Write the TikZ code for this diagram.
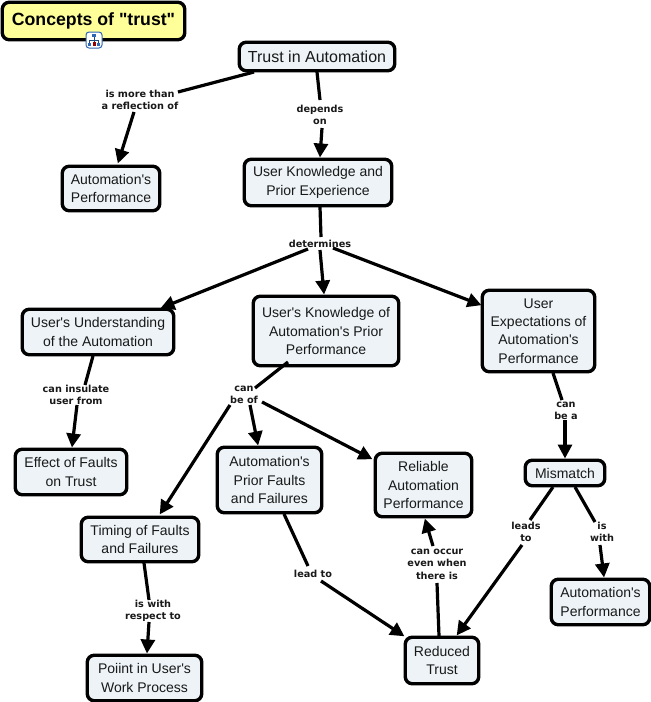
\documentclass[tikz,border=0pt]{standalone}
\usepackage{fontspec}
\newfontfamily\boxfont{Liberation Sans}
\newfontfamily\labelfont{DejaVu Sans}
\usetikzlibrary{arrows.meta}
\definecolor{boxfill}{HTML}{EDF3F6}
\definecolor{titlefill}{HTML}{FFFF99}
\definecolor{iconblue}{HTML}{2F66B5}
\tikzset{
  concept/.style={draw=black,fill=boxfill,line width=3.4pt,rounded corners=7pt,align=center,
    inner sep=0pt,outer sep=0pt,font=\boxfont\fontsize{14}{18.4}\selectfont,text=black!90},
  titlebox/.style={draw=black,fill=titlefill,line width=3.4pt,rounded corners=7pt,inner sep=0pt,outer sep=0pt,
    font=\boxfont\fontsize{17.7}{22}\selectfont\bfseries},
  linkword/.style={align=center,inner sep=0pt,font=\labelfont\fontsize{9.7}{12.6}\selectfont\bfseries,text=black!90},
  linkline/.style={line width=3.2pt,draw=black},
  linkarrow/.style={linkline,-{Triangle[length=14pt,width=14pt]},shorten >=-0.5pt}
}
\newcommand{\plainlink}[4]{\draw[linkline] ([shift={(#2)}]#1.center) -- ([shift={(#4)}]#3.center);}
\newcommand{\tiplink}[4]{\draw[linkarrow] ([shift={(#2)}]#1.center) -- ([shift={(#4)}]#3.center);}
\begin{document}
\begin{tikzpicture}[x=1pt,y=-1pt]
\useasboundingbox[fill=white] (0,0) rectangle (651,702);
% boxes
\node[titlebox,minimum width=182.5pt,minimum height=37.5pt] (title) at (93.5,21) {Concepts of "trust"};
\node[concept,minimum width=155.5pt,minimum height=28.5pt,font=\boxfont\fontsize{16}{19}\selectfont] (trust) at (317,56.5) {Trust in Automation};
\node[concept,minimum width=97.5pt,minimum height=44.5pt] (perfL) at (111,188.5) {Automation's\\Performance};
\node[concept,minimum width=147.5pt,minimum height=46.5pt] (uk) at (318,182.5) {\raisebox{-1pt}{User Knowledge and}\\\raisebox{-1pt}{Prior Experience}};
\node[concept,minimum width=151.5pt,minimum height=45.5pt] (uu) at (98,332) {User's Understanding\\of the Automation};
\node[concept,minimum width=145.5pt,minimum height=69.5pt] (k) at (326,331) {User's Knowledge of\\Automation's Prior\\Performance};
\node[concept,minimum width=112.5pt,minimum height=81.5pt] (ue) at (538.5,331) {User\\Expectations of\\Automation's\\Performance};
\node[concept,minimum width=111.5pt,minimum height=45.5pt] (eff) at (71,472) {Effect of Faults\\on Trust};
\node[concept,minimum width=104.5pt,minimum height=65.5pt] (prior) at (269.5,480) {Automation's\\Prior Faults\\and Failures};
\node[concept,minimum width=96.5pt,minimum height=63.5pt] (rel) at (423.5,485) {Reliable\\Automation\\Performance};
\node[concept,minimum width=117.5pt,minimum height=44.5pt] (tim) at (140,539.5) {Timing of Faults\\and Failures};
\node[concept,minimum width=79.5pt,minimum height=25.5pt] (mis) at (565,473) {Mismatch};
\node[concept,minimum width=98.5pt,minimum height=45.5pt] (perfR) at (600.5,602) {Automation's\\Performance};
\node[concept,minimum width=73.5pt,minimum height=46.5pt] (red) at (442,660.5) {Reduced\\Trust};
\node[concept,minimum width=114.5pt,minimum height=45.5pt] (poi) at (144.5,678) {Poiint in User's\\Work Process};
% linking words
\coordinate (l1) at (140,100);
\coordinate (l2) at (320,115);
\coordinate (det) at (320,244);
\coordinate (ins) at (76,395);
\coordinate (of) at (244,395);
\coordinate (cba) at (566,411);
\coordinate (lds) at (526,532);
\coordinate (iw) at (602,532);
\coordinate (wr) at (153,611);
\coordinate (ld) at (313,574);
\coordinate (oc) at (437,564);
% connectors
\plainlink{trust}{-63,15.5}{l1}{38,-8}
\tiplink{l1}{-6,12}{perfL}{7,-25.5}
\plainlink{trust}{0,15.5}{l2}{0,-15}
\tiplink{l2}{2,13}{uk}{2,-25.5}
\plainlink{uk}{2,24.5}{det}{1,-7}
\tiplink{det}{-12,5}{uu}{63,-24}
\tiplink{det}{0,6}{k}{-2,-37}
\tiplink{det}{13,4}{ue}{-57.5,-26}
\plainlink{uu}{-5,24}{ins}{9,-10}
\tiplink{ins}{1,10}{eff}{1,-25}
\plainlink{k}{-38,31}{of}{11,-7}
\tiplink{of}{6,10}{prior}{-11.5,-35}
\tiplink{of}{18,7}{rel}{-51.5,-26}
\tiplink{of}{-14,10}{tim}{20,-25.5}
\plainlink{ue}{14.5,42}{cba}{-4,-11}
\tiplink{cba}{-1,9}{mis}{0,-15}
\plainlink{mis}{-12,14}{lds}{4,-12}
\tiplink{lds}{-4,13}{red}{15,-25.5}
\plainlink{mis}{10,14}{iw}{-7,-10}
\tiplink{iw}{-2,13}{perfR}{3.5,-25}
\plainlink{tim}{4,23.5}{wr}{-4,-11}
\tiplink{wr}{-4,11}{poi}{2.5,-25}
\plainlink{prior}{14.5,34}{ld}{-5,-8}
\tiplink{ld}{8,7}{red}{-38,-24.5}
\plainlink{red}{-3,-24.5}{oc}{0,19}
\tiplink{oc}{-4,-18}{rel}{1.5,34}
% label text
\node[linkword] (l1t) at (l1) {is more than\\a reflection of};
\node[linkword] (l2t) at (l2) {depends\\on};
\node[linkword] (dett) at (det) {determines};
\node[linkword] (inst) at (ins) {can insulate\\user from};
\node[linkword] (oft) at (of) {can\\be of};
\node[linkword] (cbat) at (cba) {can\\be a};
\node[linkword] (ldst) at (lds) {leads\\to};
\node[linkword] (iwt) at (iw) {is\\with};
\node[linkword] (wrt) at (wr) {is with\\respect to};
\node[linkword] (ldt) at (ld) {lead to};
\node[linkword] (oct) at (oc) {can occur\\even when\\there is};
% map icon
\draw[iconblue,fill=white,line width=1pt,rounded corners=3pt] (86,32) rectangle (102,48);
\draw[iconblue!70!black,line width=0.8pt] (94,36) -- (94,44) (89.5,44) -- (89.5,40) -- (98.5,40) -- (98.5,44);
\fill[iconblue] (92,34) rectangle (96,37);
\fill[iconblue] (88,43) rectangle (91,46);
\fill[red!60!black] (92.5,42) rectangle (95.5,46);
\fill[iconblue] (97,43) rectangle (100,46);
\end{tikzpicture}
\end{document}
